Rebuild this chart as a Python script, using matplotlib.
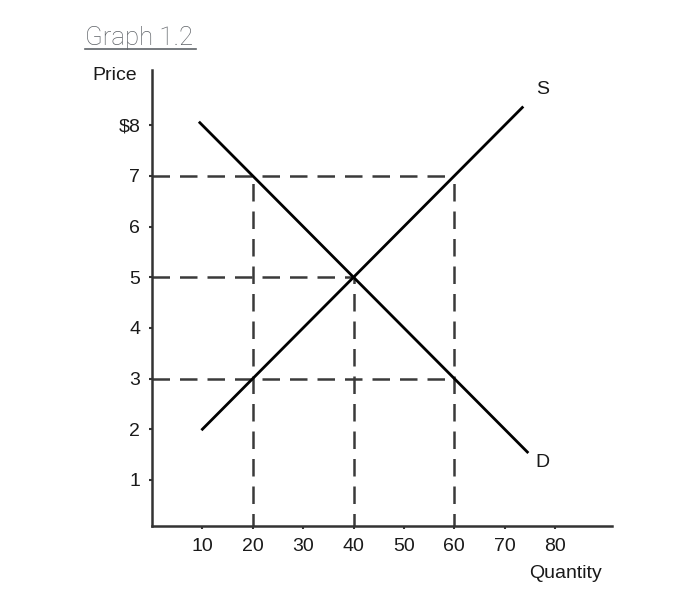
import matplotlib
matplotlib.use("Agg")
import matplotlib.pyplot as plt
import numpy as np

# Data
supply_q = [10, 73.5]
supply_p = [2, 8.35]
demand_q = [9.5, 74.5]
demand_p = [8.05, 1.55]
price_levels = [7, 5, 3]
price_ends = [60, 40, 60]
qty_levels = [20, 40, 60]
qty_tops = [7, 5, 7]
x_ticks = [10, 20, 30, 40, 50, 60, 70, 80]
x_labels = ["10", "20", "30", "40", "50", "60", "70", "80"]
y_ticks = [1, 2, 3, 4, 5, 6, 7, 8]
y_labels = ["1", "2", "3", "4", "5", "6", "7", "$8"]

fig = plt.figure(figsize=(6.73, 6.05), dpi=100)
ax = fig.add_axes([152/673, 1-526/605, (612-152)/673, (526-70)/605])
ax.set_xlim(0, 91.3)
ax.set_ylim(0.09, 9.09)

dash = (0, (7, 4))
dcol = "#3a3a3a"
for p, e in zip(price_levels, price_ends):
    ax.plot([0, e], [p, p], color=dcol, lw=1.8, linestyle=dash, zorder=2)
for q, t in zip(qty_levels, qty_tops):
    ax.plot([q, q], [0, t], color=dcol, lw=1.8, linestyle=dash, zorder=2)

ax.plot(supply_q, supply_p, color="black", lw=2, zorder=3)
ax.plot(demand_q, demand_p, color="black", lw=2, zorder=3)

fp = dict(fontfamily="Liberation Sans", fontsize=14, color="#1a1a1a")
ax.text(77.5, 8.7, "S", ha="center", va="center", **fp)
ax.text(77.5, 1.35, "D", ha="center", va="center", **fp)

for s in ["top", "right"]:
    ax.spines[s].set_visible(False)
for s in ["left", "bottom"]:
    ax.spines[s].set_linewidth(1.8)
    ax.spines[s].set_color("#333333")

ax.set_xticks(x_ticks)
ax.set_xticklabels(x_labels, **fp)
ax.set_yticks(y_ticks)
ax.set_yticklabels(y_labels, **fp)
ax.tick_params(axis="both", length=2.5, width=1.5, color="#333333", pad=6)

fig.text(566/673, 1-574/605, "Quantity", ha="center", va="center", **fp)
fig.text(115/673, 1-75/605, "Price", ha="center", va="center", **fp)

t = fig.text(85/673, 1-38/605, "Graph 1.2", fontsize=18.5, fontfamily="Roboto", fontweight="light",
             color="#5f6368", ha="left", va="center")
fig.add_artist(plt.Line2D([85/673, 196/673], [1-49/605, 1-49/605], color="#5f6368", lw=1.2))

fig.savefig("out.png", dpi=100)
